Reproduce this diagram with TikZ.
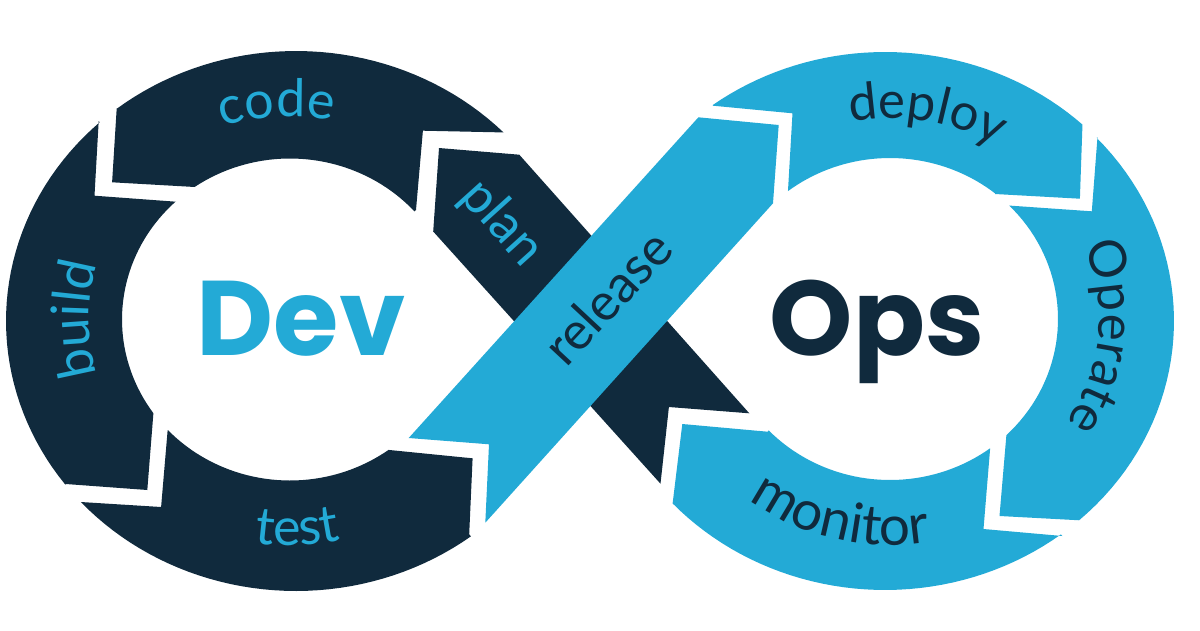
\documentclass[tikz,border=0pt]{standalone}
\usepackage{fontspec}
\setmainfont{Lato}
\newfontfamily\titlefont{Poppins}
\usetikzlibrary{decorations.text}
\definecolor{devdark}{RGB}{16,42,61}
\definecolor{opsblue}{RGB}{35,170,214}
\newcommand{\devlabel}{\fontsize{52}{52}\selectfont\color{opsblue}}
\newcommand{\opslabel}{\fontsize{51}{51}\selectfont\color{devdark}}
\newcommand{\widelabel}{\fontsize{55}{55}\selectfont\color{devdark}}
\tikzset{
  devpart/.style={fill=devdark},
  opspart/.style={fill=opsblue},
  devouter/.style 2 args={insert path={-- plot[domain=#1:#2, samples=40] ({296+290*cos(\x)},{321+270*sin(\x)})}},
  devinner/.style 2 args={insert path={-- plot[domain=#1:#2, samples=40] ({290+168*cos(\x)},{319.5+161*sin(\x)})}},
  opsouter/.style 2 args={insert path={-- plot[domain=#1:#2, samples=40] ({885+289*cos(\x)},{321+269*sin(\x)})}},
  opsinner/.style 2 args={insert path={-- plot[domain=#1:#2, samples=40] ({890+168*cos(\x)},{319+161*sin(\x)})}},
  labelarc/.style n args={6}{insert path={plot[domain=#5:#6, samples=40] ({#1+#3*cos(\x)},{#2+#4*sin(\x)})}},
  titletext/.style={font=\titlefont\bfseries\fontsize{106}{106}\selectfont, anchor=base},
  bandtext/.style={font=\fontsize{52}{52}\selectfont}
}

\begin{document}
\begin{tikzpicture}[x=1pt,y=-1pt]
\useasboundingbox (0,0) rectangle (1200,630);

\fill[devpart] (116.7,108.3) [devouter={-128.1}{-44.3}] -- (422.9,130.7) -- (416,210) [devinner={-42.2}{-124.6}] -- (112.1,182.3) -- cycle;
\fill[devpart] (98.7,121) -- (94.5,195.7) -- (176,201.7) [devinner={227.1}{144.4}] -- (147.3,490) -- (65.8,484) [devouter={142.7}{227.4}] -- cycle;
\fill[devpart] (167.6,430.7) [devinner={136.6}{54.1}] -- (472.6,458.3) -- (469.2,534.3) [devouter={52.9}{137.9}] -- (161.1,507) -- cycle;
\fill[devpart] (439,148) -- (519.3,154.7) -- (749.3,413.3) -- (668.9,407) -- (660.5,483.7) -- (433.2,231.5) -- cycle;

\fill[opspart] (698.4,117.3) -- (778.7,125) -- (773,203.3) -- (485.3,522.7) -- (489,444.3) -- (408.7,438) -- cycle;
\fill[opspart] (792.5,113.3) -- (712.9,105.7) [opsouter={-126.6}{-46.9}] -- (1079.9,198.7) -- (995,194) [opsinner={-51.1}{-127.4}] -- cycle;
\fill[opspart] (1091.8,211.3) -- (1097.5,137) [opsouter={-42.9}{47.8}] -- (999.5,516) -- (1006.4,435) [opsinner={46.1}{-44.8}] -- cycle;
\fill[opspart] (682.3,424) -- (767.6,431.7) [opsinner={136.2}{53.4}] -- (983.5,529) -- (1062.3,536) [opsouter={52.5}{137.3}] -- cycle;

\path[decorate, decoration={text along path, text align=center, text={|\devlabel|code}}, labelarc={290}{319.5}{212}{203}{-133.5}{-53.5}];
\path[decorate, decoration={text along path, text align=center, text={|\devlabel|build}}, labelarc={290}{319.5}{201}{203}{140}{220}];
\path[decorate, decoration={text along path, text align=center, text={|\devlabel|test}}, labelarc={290}{319.5}{235}{226}{128}{48}];
\path[decorate, decoration={text along path, text align=center, text={|\opslabel|deploy}}, labelarc={890}{319}{210}{201}{-120}{-40}];
\path[decorate, decoration={text along path, text align=center, text={|\opslabel|Operate}}, labelarc={890}{319}{209}{192}{-38}{48}];
\path[decorate, decoration={text along path, text align=center, text={|\widelabel|monitor}}, labelarc={890}{319}{236}{226}{143.5}{63.5}];

\node[bandtext, text=opsblue, rotate=-48] (plan) at (502,223) {plan};
\node[bandtext, text=devdark, rotate=47] (release) at (607,297) {release};
\node[titletext, text=opsblue] (dev) at (301,355) {Dev};
\node[titletext, text=devdark] (ops) at (877,355) {Ops};
\end{tikzpicture}
\end{document}
